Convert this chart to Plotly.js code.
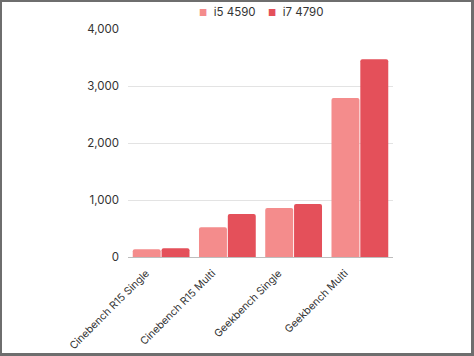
<!DOCTYPE html>
<html>
<head>
<meta charset="utf-8">
<script src="https://cdn.plot.ly/plotly-3.0.1.min.js"></script>
<style>
  html, body { margin: 0; padding: 0; background: #fff; }
  #wrap { position: relative; width: 474px; height: 356px; }
  #chart { position: absolute; left: 0; top: 0; width: 474px; height: 356px; }
  #frame { position: absolute; left: 0; top: 0; width: 474px; height: 356px; box-sizing: border-box;
           border-style: solid; border-color: #6e6e6e; border-width: 2px 3px 3px 2px; pointer-events: none; }
</style>
</head>
<body>
<div id="wrap"><div id="chart"></div><div id="frame"></div></div>
<script>
const categories = ["Cinebench R15 Single", "Cinebench R15 Multi", "Geekbench Single", "Geekbench Multi"];
const i5_4590 = [135, 520, 860, 2790];
const i7_4790 = [155, 755, 930, 3470];
const seriesNames = ["i5 4590", "i7 4790"];
const seriesColors = ["#f48c8c", "#e4505a"];
const yTicks = [0, 1000, 2000, 3000, 4000];

const seriesValues = [i5_4590, i7_4790];
const traces = seriesNames.map((name, i) => ({
  type: "bar", name: name, x: categories, y: seriesValues[i],
  marker: { color: seriesColors[i], cornerradius: 2 }
}));

// legend drawn as text entries (small square + name), positioned like the reference
const legendX = [0.262, 0.52];
const annotations = seriesNames.map((name, i) => ({
  xref: "paper", yref: "paper", x: legendX[i], y: 1.075, xanchor: "left", yanchor: "middle",
  showarrow: false,
  text: '<span style="color:' + seriesColors[i] + ';font-size:9px">■</span>\u00a0\u00a0' + name,
  font: { size: 11.5, color: "#333333" }
}));

const layout = {
  width: 474, height: 356,
  margin: { l: 128, r: 81, t: 29, b: 99, autoexpand: false },
  paper_bgcolor: "#ffffff", plot_bgcolor: "#ffffff",
  font: { family: "Inter, 'Open Sans', sans-serif", size: 11.5, color: "#333333" },
  barmode: "group", bargap: 0.13, bargroupgap: 0.03,
  showlegend: false,
  annotations: annotations,
  xaxis: { tickangle: -45, showgrid: false, showline: true, linecolor: "#bdbdbd", linewidth: 1,
           ticks: "", ticklabelshift: -15, ticklabelstandoff: 5,
           tickfont: { size: 10.5, color: "#333333" }, automargin: false, fixedrange: true },
  yaxis: { range: [0, 4000], tickvals: yTicks, tickformat: ",d", showgrid: true,
           gridcolor: "#e3e3e3", gridwidth: 1, zeroline: false, ticks: "",
           ticklabelstandoff: 8, tickfont: { size: 11.5, color: "#333333" }, automargin: false, fixedrange: true }
};

Plotly.newPlot("chart", traces, layout, { displayModeBar: false, staticPlot: true });
</script>
</body>
</html>
